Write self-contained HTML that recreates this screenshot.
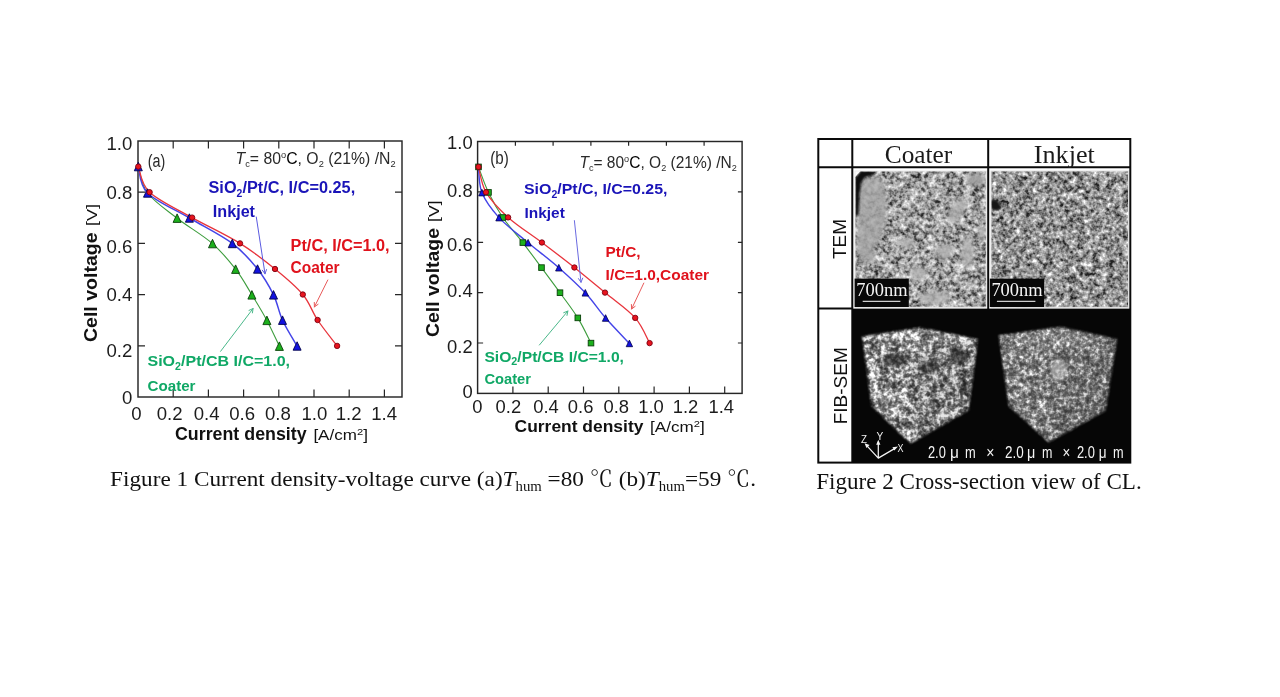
<!DOCTYPE html>
<html lang="en">
<head>
<meta charset="utf-8">
<title>Figure 1 and Figure 2</title>
<style>
html,body{margin:0;padding:0;background:#fff;}
body{width:1280px;height:697px;overflow:hidden;position:relative;}
svg{position:absolute;left:0;top:0;display:block;}
text{white-space:pre;}
</style>
</head>
<body>
<svg width="1280" height="697" viewBox="0 0 1280 697" xml:space="preserve">
<rect width="1280" height="697" fill="#ffffff"/>
<g id="plotA">
<rect x="138.0" y="141.0" width="264.0" height="256.0" fill="#fff" stroke="#262626" stroke-width="1.45"/>
<path d="M173.2 397.0v-7.5M173.2 141.0v7.5M208.4 397.0v-7.5M208.4 141.0v7.5M243.6 397.0v-7.5M243.6 141.0v7.5M278.8 397.0v-7.5M278.8 141.0v7.5M314.0 397.0v-7.5M314.0 141.0v7.5M349.2 397.0v-7.5M349.2 141.0v7.5M384.4 397.0v-7.5M384.4 141.0v7.5M138.0 192.2h7.0M402.0 192.2h-7.0M138.0 243.4h7.0M402.0 243.4h-7.0M138.0 294.6h7.0M402.0 294.6h-7.0M138.0 345.8h7.0M402.0 345.8h-7.0" stroke="#262626" stroke-width="1.2" fill="none"/>
<text x="136.3" y="419.7" font-family='"Liberation Sans", sans-serif' font-size="18.6" fill="#1c1c1c" text-anchor="middle">0</text>
<text x="169.7" y="419.7" font-family='"Liberation Sans", sans-serif' font-size="18.6" fill="#1c1c1c" text-anchor="middle">0.2</text>
<text x="206.7" y="419.7" font-family='"Liberation Sans", sans-serif' font-size="18.6" fill="#1c1c1c" text-anchor="middle">0.4</text>
<text x="242.2" y="419.7" font-family='"Liberation Sans", sans-serif' font-size="18.6" fill="#1c1c1c" text-anchor="middle">0.6</text>
<text x="277.9" y="419.7" font-family='"Liberation Sans", sans-serif' font-size="18.6" fill="#1c1c1c" text-anchor="middle">0.8</text>
<text x="314.4" y="419.7" font-family='"Liberation Sans", sans-serif' font-size="18.6" fill="#1c1c1c" text-anchor="middle">1.0</text>
<text x="348.7" y="419.7" font-family='"Liberation Sans", sans-serif' font-size="18.6" fill="#1c1c1c" text-anchor="middle">1.2</text>
<text x="384.1" y="419.7" font-family='"Liberation Sans", sans-serif' font-size="18.6" fill="#1c1c1c" text-anchor="middle">1.4</text>
<text x="132.4" y="149.8" font-family='"Liberation Sans", sans-serif' font-size="18.6" fill="#1c1c1c" text-anchor="end">1.0</text>
<text x="132.4" y="199.4" font-family='"Liberation Sans", sans-serif' font-size="18.6" fill="#1c1c1c" text-anchor="end">0.8</text>
<text x="132.4" y="253.1" font-family='"Liberation Sans", sans-serif' font-size="18.6" fill="#1c1c1c" text-anchor="end">0.6</text>
<text x="132.4" y="301.4" font-family='"Liberation Sans", sans-serif' font-size="18.6" fill="#1c1c1c" text-anchor="end">0.4</text>
<text x="132.4" y="356.7" font-family='"Liberation Sans", sans-serif' font-size="18.6" fill="#1c1c1c" text-anchor="end">0.2</text>
<text x="132.4" y="404.4" font-family='"Liberation Sans", sans-serif' font-size="18.6" fill="#1c1c1c" text-anchor="end">0</text>
<text x="175.0" y="439.8" font-family='"Liberation Sans", sans-serif' font-size="17.6" fill="#111" font-weight="bold" textLength="131.6" lengthAdjust="spacingAndGlyphs">Current density</text>
<text x="313.4" y="439.8" font-family='"Liberation Sans", sans-serif' font-size="14.5" fill="#111" textLength="54.5" lengthAdjust="spacingAndGlyphs">[A/cm<tspan font-size="9.5" dy="-5">2</tspan><tspan dy="5">]</tspan></text>
<g transform="translate(97.4 342) rotate(-90)">
<text x="0.0" y="0.0" font-family='"Liberation Sans", sans-serif' font-size="18.0" fill="#111" font-weight="bold" textLength="109.5" lengthAdjust="spacingAndGlyphs">Cell voltage</text>
<text x="116.0" y="0.0" font-family='"Liberation Sans", sans-serif' font-size="15.0" fill="#111" textLength="22.0" lengthAdjust="spacingAndGlyphs">[V]</text>
</g>
<path d="M138.3 166.6 C139.8 171.0 141.0 184.4 147.5 193.0 C154.0 201.6 166.3 209.8 177.1 218.2 C187.9 226.6 202.8 235.1 212.5 243.6 C222.2 252.1 229.0 260.7 235.6 269.2 C242.2 277.7 246.7 286.3 251.9 294.8 C257.1 303.3 262.3 311.8 266.9 320.4 C271.5 329.0 277.3 341.9 279.4 346.2" fill="none" stroke="#3c9c3c" stroke-width="1.1"/>
<path d="M138.3 166.6 C139.8 171.0 139.0 184.4 147.5 193.0 C156.0 201.6 175.3 209.6 189.4 218.0 C203.5 226.4 221.0 234.9 232.3 243.4 C243.7 251.9 250.6 260.4 257.5 269.0 C264.4 277.6 269.3 286.3 273.5 294.8 C277.7 303.3 278.6 311.7 282.5 320.2 C286.4 328.7 294.7 341.7 297.1 346.0" fill="none" stroke="#4444e8" stroke-width="1.5"/>
<path d="M138.3 166.6 C140.2 170.9 140.6 183.7 149.6 192.2 C158.6 200.7 177.0 209.1 192.1 217.6 C207.2 226.1 226.2 234.8 240.0 243.4 C253.8 252.0 264.5 260.5 275.0 269.0 C285.5 277.5 295.7 286.0 302.8 294.5 C309.9 303.0 311.9 311.4 317.6 320.0 C323.3 328.6 333.9 341.6 337.1 345.9" fill="none" stroke="#e8343c" stroke-width="1.3"/>
<path d="M177.1 213.9 L181.1 222.4 L173.1 222.4 Z M212.5 239.3 L216.5 247.8 L208.5 247.8 Z M235.6 264.9 L239.6 273.4 L231.6 273.4 Z M251.9 290.6 L255.9 299.1 L247.9 299.1 Z M266.9 316.1 L270.9 324.6 L262.9 324.6 Z M279.4 341.9 L283.4 350.4 L275.4 350.4 Z" fill="#1cb01c" stroke="#0a400a" stroke-width="0.9" stroke-linejoin="miter"/>
<path d="M138.3 162.3 L142.3 170.8 L134.3 170.8 Z M147.5 188.8 L151.5 197.2 L143.5 197.2 Z M189.4 213.8 L193.4 222.2 L185.4 222.2 Z M232.3 239.2 L236.3 247.7 L228.3 247.7 Z M257.5 264.8 L261.5 273.2 L253.5 273.2 Z M273.5 290.6 L277.5 299.1 L269.5 299.1 Z M282.5 315.9 L286.5 324.4 L278.5 324.4 Z M297.1 341.8 L301.1 350.2 L293.1 350.2 Z" fill="#1212e0" stroke="#000048" stroke-width="0.9"/>
<circle cx="138.3" cy="166.6" r="2.7" fill="#e8141e" stroke="#7a0010" stroke-width="0.9"/>
<circle cx="149.6" cy="192.2" r="2.7" fill="#e8141e" stroke="#7a0010" stroke-width="0.9"/>
<circle cx="192.1" cy="217.6" r="2.7" fill="#e8141e" stroke="#7a0010" stroke-width="0.9"/>
<circle cx="240.0" cy="243.4" r="2.7" fill="#e8141e" stroke="#7a0010" stroke-width="0.9"/>
<circle cx="275.0" cy="269.0" r="2.7" fill="#e8141e" stroke="#7a0010" stroke-width="0.9"/>
<circle cx="302.8" cy="294.5" r="2.7" fill="#e8141e" stroke="#7a0010" stroke-width="0.9"/>
<circle cx="317.6" cy="320.0" r="2.7" fill="#e8141e" stroke="#7a0010" stroke-width="0.9"/>
<circle cx="337.1" cy="345.9" r="2.7" fill="#e8141e" stroke="#7a0010" stroke-width="0.9"/>
<path d="M256.3 217.0 L265.0 273.8 M262.3 270.2 L265.0 273.8 L266.5 269.6" fill="none" stroke="#5a5ae0" stroke-width="1" stroke-linecap="round" stroke-linejoin="round"/>
<path d="M327.8 280.0 L314.4 306.9 M314.3 302.4 L314.4 306.9 L318.1 304.3" fill="none" stroke="#e85a5a" stroke-width="1" stroke-linecap="round" stroke-linejoin="round"/>
<path d="M220.6 351.3 L253.1 308.5 M252.4 312.9 L253.1 308.5 L249.0 310.4" fill="none" stroke="#4ab88a" stroke-width="1" stroke-linecap="round" stroke-linejoin="round"/>
<text x="147.8" y="167.4" font-family='"Liberation Sans", sans-serif' font-size="18.0" fill="#2a2a2a" textLength="17.5" lengthAdjust="spacingAndGlyphs">(a)</text>
<text x="235.6" y="163.9" font-family='"Liberation Sans", sans-serif' font-size="16.2" fill="#2a2a2a" textLength="160.0" lengthAdjust="spacingAndGlyphs"><tspan font-style="italic">T</tspan><tspan font-size="9.5" dy="3">c</tspan><tspan dy="-3">= 80</tspan><tspan font-size="9.5" dy="-6">o</tspan><tspan dy="6" fill="#000">C</tspan>, O<tspan font-size="9.5" dy="3">2</tspan><tspan dy="-3"> (21%) /N</tspan><tspan font-size="9.5" dy="3">2</tspan></text>
<text x="208.5" y="193.1" font-family='"Liberation Sans", sans-serif' font-size="15.6" fill="#1a14b8" font-weight="bold" textLength="146.7" lengthAdjust="spacingAndGlyphs">SiO<tspan font-size="10" dy="3.5">2</tspan><tspan dy="-3.5">/Pt/C, I/C=0.25,</tspan></text>
<text x="212.8" y="216.5" font-family='"Liberation Sans", sans-serif' font-size="15.6" fill="#1a14b8" font-weight="bold" textLength="42.2" lengthAdjust="spacingAndGlyphs">Inkjet</text>
<text x="290.6" y="251.0" font-family='"Liberation Sans", sans-serif' font-size="15.6" fill="#e0121c" font-weight="bold" textLength="99.0" lengthAdjust="spacingAndGlyphs">Pt/C, I/C=1.0,</text>
<text x="290.6" y="273.4" font-family='"Liberation Sans", sans-serif' font-size="15.6" fill="#e0121c" font-weight="bold" textLength="49.0" lengthAdjust="spacingAndGlyphs">Coater</text>
<text x="147.5" y="366.3" font-family='"Liberation Sans", sans-serif' font-size="15.0" fill="#10a866" font-weight="bold" textLength="142.5" lengthAdjust="spacingAndGlyphs">SiO<tspan font-size="10" dy="3.5">2</tspan><tspan dy="-3.5">/Pt/CB I/C=1.0,</tspan></text>
<text x="147.5" y="390.6" font-family='"Liberation Sans", sans-serif' font-size="15.0" fill="#10a866" font-weight="bold" textLength="48.0" lengthAdjust="spacingAndGlyphs">Coater</text>
</g>
<g id="plotB">
<rect x="477.6" y="141.5" width="264.5" height="251.9" fill="#fff" stroke="#262626" stroke-width="1.45"/>
<path d="M512.9 393.4v-7.0M515.4 141.5v4.2M548.2 393.4v-7.0M553.1 141.5v4.2M583.5 393.4v-7.0M590.9 141.5v4.2M618.8 393.4v-7.0M628.6 141.5v4.2M654.1 393.4v-7.0M666.4 141.5v4.2M689.4 393.4v-7.0M704.1 141.5v4.2M724.7 393.4v-7.0M477.6 191.9h5.5M742.1 191.9h-4.2M477.6 242.3h5.5M742.1 242.3h-4.2M477.6 292.6h5.5M742.1 292.6h-4.2M477.6 343.0h5.5M742.1 343.0h-4.2" stroke="#262626" stroke-width="1.2" fill="none"/>
<text x="477.3" y="413.1" font-family='"Liberation Sans", sans-serif' font-size="18.4" fill="#1c1c1c" text-anchor="middle">0</text>
<text x="508.4" y="413.1" font-family='"Liberation Sans", sans-serif' font-size="18.4" fill="#1c1c1c" text-anchor="middle">0.2</text>
<text x="546.0" y="413.1" font-family='"Liberation Sans", sans-serif' font-size="18.4" fill="#1c1c1c" text-anchor="middle">0.4</text>
<text x="580.6" y="413.1" font-family='"Liberation Sans", sans-serif' font-size="18.4" fill="#1c1c1c" text-anchor="middle">0.6</text>
<text x="616.3" y="413.1" font-family='"Liberation Sans", sans-serif' font-size="18.4" fill="#1c1c1c" text-anchor="middle">0.8</text>
<text x="651.0" y="413.1" font-family='"Liberation Sans", sans-serif' font-size="18.4" fill="#1c1c1c" text-anchor="middle">1.0</text>
<text x="685.5" y="413.1" font-family='"Liberation Sans", sans-serif' font-size="18.4" fill="#1c1c1c" text-anchor="middle">1.2</text>
<text x="721.3" y="413.1" font-family='"Liberation Sans", sans-serif' font-size="18.4" fill="#1c1c1c" text-anchor="middle">1.4</text>
<text x="472.7" y="148.8" font-family='"Liberation Sans", sans-serif' font-size="18.4" fill="#1c1c1c" text-anchor="end">1.0</text>
<text x="472.7" y="196.5" font-family='"Liberation Sans", sans-serif' font-size="18.4" fill="#1c1c1c" text-anchor="end">0.8</text>
<text x="472.7" y="251.1" font-family='"Liberation Sans", sans-serif' font-size="18.4" fill="#1c1c1c" text-anchor="end">0.6</text>
<text x="472.7" y="297.4" font-family='"Liberation Sans", sans-serif' font-size="18.4" fill="#1c1c1c" text-anchor="end">0.4</text>
<text x="472.7" y="352.6" font-family='"Liberation Sans", sans-serif' font-size="18.4" fill="#1c1c1c" text-anchor="end">0.2</text>
<text x="472.7" y="398.1" font-family='"Liberation Sans", sans-serif' font-size="18.4" fill="#1c1c1c" text-anchor="end">0</text>
<text x="514.6" y="432.3" font-family='"Liberation Sans", sans-serif' font-size="17.2" fill="#111" font-weight="bold" textLength="128.8" lengthAdjust="spacingAndGlyphs">Current density</text>
<text x="650.0" y="432.3" font-family='"Liberation Sans", sans-serif' font-size="14.5" fill="#111" textLength="54.7" lengthAdjust="spacingAndGlyphs">[A/cm<tspan font-size="9.5" dy="-5">2</tspan><tspan dy="5">]</tspan></text>
<g transform="translate(438.7 337) rotate(-90)">
<text x="0.0" y="0.0" font-family='"Liberation Sans", sans-serif' font-size="18.0" fill="#111" font-weight="bold" textLength="109.0" lengthAdjust="spacingAndGlyphs">Cell voltage</text>
<text x="115.0" y="0.0" font-family='"Liberation Sans", sans-serif' font-size="15.0" fill="#111" textLength="21.5" lengthAdjust="spacingAndGlyphs">[V]</text>
</g>
<path d="M478.5 166.9 C480.2 171.2 484.4 184.0 488.5 192.4 C492.6 200.8 497.1 209.1 502.8 217.5 C508.5 225.9 516.3 234.2 522.8 242.6 C529.2 250.9 535.3 259.2 541.5 267.6 C547.7 276.0 554.0 284.3 560.0 292.7 C566.0 301.1 572.6 309.5 577.8 317.9 C583.0 326.3 588.8 338.9 591.0 343.1" fill="none" stroke="#3c9c3c" stroke-width="1.1"/>
<path d="M478.5 166.9 C479.1 171.2 478.5 184.2 481.9 192.6 C485.3 201.0 491.3 209.2 499.0 217.6 C506.7 225.9 518.1 234.3 528.1 242.7 C538.1 251.0 549.3 259.3 558.8 267.7 C568.3 276.1 577.5 284.4 585.3 292.8 C593.1 301.2 598.2 309.6 605.6 318.0 C613.0 326.4 625.4 339.2 629.4 343.4" fill="none" stroke="#4444e8" stroke-width="1.4"/>
<path d="M478.5 166.9 C479.8 171.1 481.1 183.8 486.0 192.2 C490.9 200.6 498.8 209.0 508.1 217.4 C517.4 225.8 530.9 234.2 541.9 242.5 C552.9 250.8 563.9 259.1 574.4 267.5 C584.9 275.9 594.9 284.2 605.0 292.6 C615.1 301.0 627.8 309.5 635.2 317.9 C642.6 326.3 647.2 338.9 649.6 343.1" fill="none" stroke="#e8343c" stroke-width="1.3"/>
<rect x="475.7" y="164.1" width="5.6" height="5.6" fill="#1cb01c" stroke="#0a400a" stroke-width="0.9"/>
<rect x="485.7" y="189.6" width="5.6" height="5.6" fill="#1cb01c" stroke="#0a400a" stroke-width="0.9"/>
<rect x="500.0" y="214.7" width="5.6" height="5.6" fill="#1cb01c" stroke="#0a400a" stroke-width="0.9"/>
<rect x="520.0" y="239.8" width="5.6" height="5.6" fill="#1cb01c" stroke="#0a400a" stroke-width="0.9"/>
<rect x="538.7" y="264.8" width="5.6" height="5.6" fill="#1cb01c" stroke="#0a400a" stroke-width="0.9"/>
<rect x="557.2" y="289.9" width="5.6" height="5.6" fill="#1cb01c" stroke="#0a400a" stroke-width="0.9"/>
<rect x="575.0" y="315.1" width="5.6" height="5.6" fill="#1cb01c" stroke="#0a400a" stroke-width="0.9"/>
<rect x="588.2" y="340.3" width="5.6" height="5.6" fill="#1cb01c" stroke="#0a400a" stroke-width="0.9"/>
<path d="M481.9 189.3 L485.1 195.9 L478.7 195.9 Z M499.0 214.3 L502.2 220.9 L495.8 220.9 Z M528.1 239.4 L531.3 246.0 L524.9 246.0 Z M558.8 264.4 L562.0 271.0 L555.6 271.0 Z M585.3 289.5 L588.5 296.1 L582.1 296.1 Z M605.6 314.7 L608.8 321.3 L602.4 321.3 Z M629.4 340.1 L632.6 346.7 L626.2 346.7 Z" fill="#1212e0" stroke="#000048" stroke-width="0.8"/>
<circle cx="478.5" cy="166.9" r="2.7" fill="#e8141e" stroke="#7a0010" stroke-width="0.9"/>
<circle cx="486.0" cy="192.2" r="2.7" fill="#e8141e" stroke="#7a0010" stroke-width="0.9"/>
<circle cx="508.1" cy="217.4" r="2.7" fill="#e8141e" stroke="#7a0010" stroke-width="0.9"/>
<circle cx="541.9" cy="242.5" r="2.7" fill="#e8141e" stroke="#7a0010" stroke-width="0.9"/>
<circle cx="574.4" cy="267.5" r="2.7" fill="#e8141e" stroke="#7a0010" stroke-width="0.9"/>
<circle cx="605.0" cy="292.6" r="2.7" fill="#e8141e" stroke="#7a0010" stroke-width="0.9"/>
<circle cx="635.2" cy="317.9" r="2.7" fill="#e8141e" stroke="#7a0010" stroke-width="0.9"/>
<circle cx="649.6" cy="343.1" r="2.7" fill="#e8141e" stroke="#7a0010" stroke-width="0.9"/>
<path d="M574.4 220.6 L581.0 282.3 M578.5 278.6 L581.0 282.3 L582.7 278.1" fill="none" stroke="#6a6ae0" stroke-width="1" stroke-linecap="round" stroke-linejoin="round"/>
<path d="M643.8 283.1 L631.6 309.0 M631.4 304.5 L631.6 309.0 L635.2 306.3" fill="none" stroke="#e85a5a" stroke-width="1" stroke-linecap="round" stroke-linejoin="round"/>
<path d="M539.4 345.0 L567.9 311.0 M567.0 315.4 L567.9 311.0 L563.7 312.7" fill="none" stroke="#4ab88a" stroke-width="1" stroke-linecap="round" stroke-linejoin="round"/>
<text x="490.3" y="164.2" font-family='"Liberation Sans", sans-serif' font-size="18.0" fill="#2a2a2a" textLength="18.5" lengthAdjust="spacingAndGlyphs">(b)</text>
<text x="579.4" y="167.5" font-family='"Liberation Sans", sans-serif' font-size="16.2" fill="#2a2a2a" textLength="157.5" lengthAdjust="spacingAndGlyphs"><tspan font-style="italic">T</tspan><tspan font-size="9.5" dy="3">c</tspan><tspan dy="-3">= 80</tspan><tspan font-size="9.5" dy="-6">o</tspan><tspan dy="6" fill="#000">C</tspan>, O<tspan font-size="9.5" dy="3">2</tspan><tspan dy="-3"> (21%) /N</tspan><tspan font-size="9.5" dy="3">2</tspan></text>
<text x="524.0" y="194.4" font-family='"Liberation Sans", sans-serif' font-size="15.2" fill="#1a14b8" font-weight="bold" textLength="143.5" lengthAdjust="spacingAndGlyphs">SiO<tspan font-size="10" dy="3.5">2</tspan><tspan dy="-3.5">/Pt/C, I/C=0.25,</tspan></text>
<text x="524.5" y="218.1" font-family='"Liberation Sans", sans-serif' font-size="15.2" fill="#1a14b8" font-weight="bold" textLength="40.3" lengthAdjust="spacingAndGlyphs">Inkjet</text>
<text x="605.6" y="256.9" font-family='"Liberation Sans", sans-serif' font-size="15.0" fill="#e0121c" font-weight="bold" textLength="35.0" lengthAdjust="spacingAndGlyphs">Pt/C,</text>
<text x="605.6" y="280.3" font-family='"Liberation Sans", sans-serif' font-size="15.0" fill="#e0121c" font-weight="bold" textLength="103.4" lengthAdjust="spacingAndGlyphs">I/C=1.0,Coater</text>
<text x="484.4" y="361.5" font-family='"Liberation Sans", sans-serif' font-size="14.6" fill="#10a866" font-weight="bold" textLength="139.6" lengthAdjust="spacingAndGlyphs">SiO<tspan font-size="10" dy="3.5">2</tspan><tspan dy="-3.5">/Pt/CB I/C=1.0,</tspan></text>
<text x="484.4" y="384.0" font-family='"Liberation Sans", sans-serif' font-size="14.6" fill="#10a866" font-weight="bold" textLength="46.6" lengthAdjust="spacingAndGlyphs">Coater</text>
</g>
<text x="110.1" y="486.0" font-family='"Liberation Serif", "Noto Serif CJK SC", serif' font-size="22.0" fill="#111" textLength="646.0" lengthAdjust="spacingAndGlyphs">Figure 1 Current density-voltage curve (a)<tspan font-style="italic">T</tspan><tspan font-size="14" dy="5">hum</tspan><tspan dy="-5"> =80 ℃ (b)</tspan><tspan font-style="italic">T</tspan><tspan font-size="14" dy="5">hum</tspan><tspan dy="-5">=59 ℃.</tspan></text>
<text x="816.3" y="489.3" font-family='"Liberation Serif", "Noto Serif CJK SC", serif' font-size="22.5" fill="#111" textLength="325.4" lengthAdjust="spacingAndGlyphs">Figure 2 Cross-section view of CL.</text>
<defs>
<filter id="temA" x="0" y="0" width="100%" height="100%" color-interpolation-filters="sRGB">
  <feTurbulence type="fractalNoise" baseFrequency="0.28" numOctaves="2" seed="7" result="n1"/>
  <feColorMatrix in="n1" type="matrix" values="1.30 0 0 0 -0.408  1.30 0 0 0 -0.408  1.30 0 0 0 -0.408  0 0 0 0 1" result="g1"/>
  <feTurbulence type="fractalNoise" baseFrequency="0.11" numOctaves="2" seed="3" result="n2"/>
  <feColorMatrix in="n2" type="matrix" values="0 1.10 0 0 -0.352  0 1.10 0 0 -0.352  0 1.10 0 0 -0.352  0 0 0 0 1" result="g2"/>
  <feComposite in="g1" in2="g2" operator="arithmetic" k1="0" k2="1" k3="1" k4="0" result="c"/>
  <feGaussianBlur in="c" stdDeviation="0.62" result="b"/>
  <feComponentTransfer in="b"><feFuncR type="table" tableValues="0.16 0.4 0.61 0.74 0.87 1.0"/><feFuncG type="table" tableValues="0.16 0.4 0.61 0.74 0.87 1.0"/><feFuncB type="table" tableValues="0.16 0.4 0.61 0.74 0.87 1.0"/></feComponentTransfer>
</filter>
<filter id="temB" x="0" y="0" width="100%" height="100%" color-interpolation-filters="sRGB">
  <feTurbulence type="fractalNoise" baseFrequency="0.3" numOctaves="2" seed="21" result="n1"/>
  <feColorMatrix in="n1" type="matrix" values="1.30 0 0 0 -0.402  1.30 0 0 0 -0.402  1.30 0 0 0 -0.402  0 0 0 0 1" result="g1"/>
  <feTurbulence type="fractalNoise" baseFrequency="0.13" numOctaves="2" seed="11" result="n2"/>
  <feColorMatrix in="n2" type="matrix" values="0 1.15 0 0 -0.372  0 1.15 0 0 -0.372  0 1.15 0 0 -0.372  0 0 0 0 1" result="g2"/>
  <feComposite in="g1" in2="g2" operator="arithmetic" k1="0" k2="1" k3="1" k4="0" result="c"/>
  <feGaussianBlur in="c" stdDeviation="0.62" result="b"/>
  <feComponentTransfer in="b"><feFuncR type="table" tableValues="0.13 0.35 0.54 0.68 0.83 1.0"/><feFuncG type="table" tableValues="0.13 0.35 0.54 0.68 0.83 1.0"/><feFuncB type="table" tableValues="0.13 0.35 0.54 0.68 0.83 1.0"/></feComponentTransfer>
</filter>
<filter id="semA" x="0" y="0" width="100%" height="100%" color-interpolation-filters="sRGB">
  <feTurbulence type="fractalNoise" baseFrequency="0.27" numOctaves="2" seed="5" result="n1"/>
  <feColorMatrix in="n1" type="matrix" values="1.50 0 0 0 -0.458  1.50 0 0 0 -0.458  1.50 0 0 0 -0.458  0 0 0 0 1" result="g1"/>
  <feTurbulence type="fractalNoise" baseFrequency="0.1" numOctaves="2" seed="9" result="n2"/>
  <feColorMatrix in="n2" type="matrix" values="0 1.20 0 0 -0.361  0 1.20 0 0 -0.361  0 1.20 0 0 -0.361  0 0 0 0 1" result="g2"/>
  <feComposite in="g1" in2="g2" operator="arithmetic" k1="0" k2="1" k3="1" k4="0" result="c"/>
  <feGaussianBlur in="c" stdDeviation="0.55" result="b"/>
  <feComponentTransfer in="b"><feFuncR type="table" tableValues="0.2 0.34 0.52 0.8 1"/><feFuncG type="table" tableValues="0.2 0.34 0.52 0.8 1"/><feFuncB type="table" tableValues="0.2 0.34 0.52 0.8 1"/></feComponentTransfer>
</filter>
<filter id="semB" x="0" y="0" width="100%" height="100%" color-interpolation-filters="sRGB">
  <feTurbulence type="fractalNoise" baseFrequency="0.3" numOctaves="2" seed="14" result="n1"/>
  <feColorMatrix in="n1" type="matrix" values="1.30 0 0 0 -0.369  1.30 0 0 0 -0.369  1.30 0 0 0 -0.369  0 0 0 0 1" result="g1"/>
  <feTurbulence type="fractalNoise" baseFrequency="0.13" numOctaves="2" seed="2" result="n2"/>
  <feColorMatrix in="n2" type="matrix" values="0 0.90 0 0 -0.221  0 0.90 0 0 -0.221  0 0.90 0 0 -0.221  0 0 0 0 1" result="g2"/>
  <feComposite in="g1" in2="g2" operator="arithmetic" k1="0" k2="1" k3="1" k4="0" result="c"/>
  <feGaussianBlur in="c" stdDeviation="0.55" result="b"/>
  <feComponentTransfer in="b"><feFuncR type="table" tableValues="0.25 0.35 0.49 0.72 0.98"/><feFuncG type="table" tableValues="0.25 0.35 0.49 0.72 0.98"/><feFuncB type="table" tableValues="0.25 0.35 0.49 0.72 0.98"/></feComponentTransfer>
</filter>
<filter id="blur3"><feGaussianBlur stdDeviation="3"/></filter>
<filter id="blur2"><feGaussianBlur stdDeviation="1.6"/></filter>
<filter id="blur2b" x="-20%" y="-20%" width="140%" height="140%"><feGaussianBlur stdDeviation="2.3"/></filter>
<filter id="blur1"><feGaussianBlur stdDeviation="0.8"/></filter>
<clipPath id="cTemA"><rect x="855" y="171" width="131.3" height="136.3"/></clipPath>
<clipPath id="cTemB"><rect x="991" y="171" width="137.5" height="136.3"/></clipPath>
<mask id="cCubeA" maskUnits="userSpaceOnUse" x="850" y="315" width="140" height="140"><path d="M862.2 336.6 L920 327.4 L977.8 339.3 L968.4 410.4 L910.4 443.4 L871.6 406 Z" fill="#fff" filter="url(#blur1)"/></mask>
<mask id="cCubeB" maskUnits="userSpaceOnUse" x="985" y="315" width="145" height="140"><path d="M998.8 335.6 L1060.3 326.7 L1117 339.3 L1105.4 410.8 L1048.7 442.3 L1008.8 406 Z" fill="#fff" filter="url(#blur1)"/></mask>
</defs>
<rect x="818.3" y="139" width="312" height="323.6" fill="#fff" stroke="#0a0a0a" stroke-width="2"/>
<path d="M852.3 139V462.6 M988.2 139V309 M818.3 167.3H1130.3 M818.3 308.4H852.3" stroke="#0a0a0a" stroke-width="2" fill="none"/>
<text x="884.8" y="163.4" font-family='"Liberation Serif", serif' font-size="26" fill="#1a1a1a" textLength="67.5" lengthAdjust="spacingAndGlyphs">Coater</text>
<text x="1033.8" y="163.4" font-family='"Liberation Serif", serif' font-size="26" fill="#1a1a1a" textLength="61" lengthAdjust="spacingAndGlyphs">Inkjet</text>
<text transform="translate(845.6 259) rotate(-90)" font-family='"Liberation Sans", sans-serif' font-size="19" fill="#111" textLength="40" lengthAdjust="spacingAndGlyphs">TEM</text>
<text transform="translate(846.6 424.3) rotate(-90)" font-family='"Liberation Sans", sans-serif' font-size="19" fill="#111" textLength="77" lengthAdjust="spacingAndGlyphs">FIB-SEM</text>
<g clip-path="url(#cTemA)">
<rect x="855" y="171" width="131.3" height="136.3" filter="url(#temA)"/>
<g filter="url(#blur2b)" opacity="0.82">
<path d="M859 180 L878 176 L886 190 L887 215 L882 236 L874 250 L876 262 L862 264 L856 250 L857 215 Z" fill="#a6a6a6"/>
<ellipse cx="957" cy="211" rx="7.5" ry="14" fill="#b2b2b2" transform="rotate(28 957 211)"/>
<ellipse cx="967.5" cy="252" rx="6.5" ry="16" fill="#b0b0b0"/>
<ellipse cx="944" cy="252" rx="8.5" ry="8" fill="#b0b0b0"/>
<ellipse cx="982" cy="233" rx="4" ry="7" fill="#b0b0b0"/>
<ellipse cx="976" cy="180" rx="10" ry="7" fill="#a0a0a0"/>
<ellipse cx="919" cy="273" rx="9" ry="7" fill="#b4b4b4"/>
<ellipse cx="935" cy="298" rx="16" ry="7" fill="#b4b4b4"/>
<ellipse cx="908" cy="243" rx="8" ry="5" fill="#acacac"/>
</g>
<path d="M861 171 L877 171 L873 175 L865 177.5 L861 183 L859.5 195 L858.5 215 L855 217 L855 178 Z" fill="#101010" filter="url(#blur1)"/>
<path d="M854 170 L861.5 170 L854 178.5 Z" fill="#fafafa"/>
</g>
<rect x="855" y="171" width="131.3" height="136.3" fill="none" stroke="#e8e8e8" stroke-width="1"/>
<g clip-path="url(#cTemB)">
<rect x="991" y="171" width="137.5" height="136.3" filter="url(#temB)"/>
<path d="M991 199 L998 201 L1002 208 L996 211 L991 209 Z" fill="#141414" filter="url(#blur1)"/>
</g>
<rect x="991" y="171" width="137.5" height="136.3" fill="none" stroke="#e0e0e0" stroke-width="1"/>
<rect x="854.6" y="278.6" width="54.2" height="28.4" fill="#080808"/>
<text x="856.3" y="295.6" font-family='"Liberation Serif", serif' font-size="19" fill="#f4f4f4" textLength="51.3" lengthAdjust="spacingAndGlyphs">700nm</text>
<path d="M862.7 301.3H900.4" stroke="#cfcfcf" stroke-width="1.3"/>
<rect x="989.8" y="278.6" width="54.2" height="28.4" fill="#080808"/>
<text x="991.4" y="295.6" font-family='"Liberation Serif", serif' font-size="19" fill="#f4f4f4" textLength="51.3" lengthAdjust="spacingAndGlyphs">700nm</text>
<path d="M996.9 301.3H1035.4" stroke="#cfcfcf" stroke-width="1.3"/>
<rect x="852.3" y="308.6" width="278" height="154" fill="#060606"/>
<g mask="url(#cCubeA)">
<rect x="860" y="325" width="120" height="121" filter="url(#semA)"/>
<path d="M862.6 337.1 L918.9 327.5 L977.4 339.4 L911 352 Z" fill="#fff" opacity="0.08"/>
<path d="M911 352 L977.4 339.4 L967 410.6 L910.8 443.9 Z" fill="#000" opacity="0.10"/>
<g filter="url(#blur2)"><ellipse cx="895" cy="360" rx="13" ry="7" fill="#202020" opacity="0.62"/><ellipse cx="958" cy="356" rx="9" ry="9" fill="#202020" opacity="0.62"/><ellipse cx="928" cy="367" rx="11" ry="7" fill="#202020" opacity="0.5"/><ellipse cx="964" cy="387" rx="4" ry="5" fill="#181818" opacity="0.6"/><ellipse cx="892" cy="405" rx="14" ry="12" fill="#fff" opacity="0.10"/></g>
</g>
<g mask="url(#cCubeB)">
<rect x="996" y="325" width="124" height="120" filter="url(#semB)"/>
<path d="M998.8 336 L1060.8 326.8 L1118.1 339.4 L1046.2 353.7 Z" fill="#fff" opacity="0.06"/>
<path d="M1046.2 353.7 L1118.1 339.4 L1105.5 411.7 L1049.3 442.7 Z" fill="#000" opacity="0.10"/>
<ellipse cx="1058.5" cy="370" rx="8" ry="11" fill="#dcdcdc" opacity="0.5" filter="url(#blur2)"/>
</g>
<g stroke="#f4f4f4" stroke-width="1.25" fill="none" stroke-linecap="round" stroke-linejoin="round">
<path d="M878.3 458.1 L878.3 442 M878.3 458.1 L894.5 448.6 M878.3 458.1 L867 445.8"/>
</g>
<path d="M878.3 439.8 L880.4 444.8 L876.2 444.8 Z M898 446.6 L894.3 450.6 L892.4 447.2 Z M864.6 443.2 L869.6 445 L866.4 447.9 Z" fill="#f4f4f4"/>
<text x="861.0" y="442.5" font-family='"Liberation Sans", sans-serif' font-size="10.5" fill="#f0f0f0" textLength="6.0" lengthAdjust="spacingAndGlyphs">Z</text>
<text x="876.4" y="440.0" font-family='"Liberation Sans", sans-serif' font-size="10.5" fill="#f0f0f0" textLength="6.8" lengthAdjust="spacingAndGlyphs">Y</text>
<text x="897.6" y="451.5" font-family='"Liberation Sans", sans-serif' font-size="10.5" fill="#f0f0f0" textLength="6.0" lengthAdjust="spacingAndGlyphs">X</text>
<text y="458.1" font-family='"Liberation Sans", "IPAGothic", sans-serif' font-size="15.8" fill="#f4f4f4"><tspan x="928.0" textLength="17.8" lengthAdjust="spacingAndGlyphs">2.0</tspan> <tspan x="950.0" textLength="8.9" lengthAdjust="spacingAndGlyphs">μ</tspan> <tspan x="965.0" textLength="10.7" lengthAdjust="spacingAndGlyphs">m</tspan> <tspan x="986.2" textLength="8.2" lengthAdjust="spacingAndGlyphs">×</tspan> <tspan x="1005.0" textLength="18.7" lengthAdjust="spacingAndGlyphs">2.0</tspan> <tspan x="1026.9" textLength="8.3" lengthAdjust="spacingAndGlyphs">μ</tspan> <tspan x="1041.9" textLength="10.4" lengthAdjust="spacingAndGlyphs">m</tspan> <tspan x="1062.5" textLength="7.8" lengthAdjust="spacingAndGlyphs">×</tspan> <tspan x="1076.9" textLength="17.9" lengthAdjust="spacingAndGlyphs">2.0</tspan> <tspan x="1098.7" textLength="7.8" lengthAdjust="spacingAndGlyphs">μ</tspan> <tspan x="1113.1" textLength="10.6" lengthAdjust="spacingAndGlyphs">m</tspan></text>
</svg>
</body>
</html>
